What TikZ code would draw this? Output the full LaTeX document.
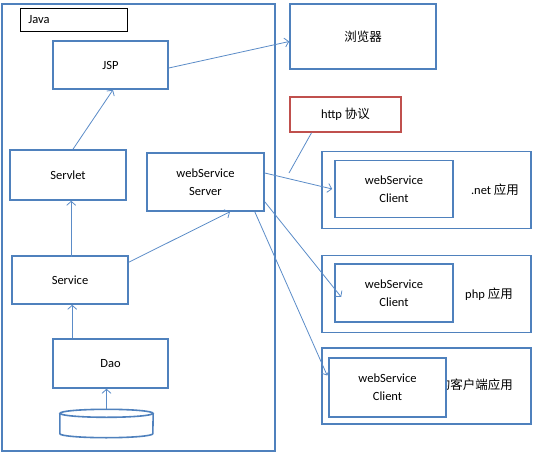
\documentclass[tikz,border=0pt]{standalone}
\usepackage{fontspec}
\setmainfont{Carlito}
\newfontfamily\cjk{Noto Sans CJK SC}
\usepackage{tikz}
\usetikzlibrary{calc}
\usetikzlibrary{arrows.meta, positioning, shapes.geometric}

\definecolor{boxblue}{HTML}{4F81BD}
\definecolor{lineblue}{HTML}{5B8CC8}
\definecolor{boxred}{HTML}{C0504D}

\begin{document}
\begin{tikzpicture}[x=1pt, y=-1pt, font=\fontsize{12.5}{18}\selectfont,
    box/.style={draw=boxblue, line width=1.6pt, fill=white, align=center},
    arr/.style={draw=lineblue, line width=0.8pt, -{Straight Barb[length=4pt, width=9pt]}}]
    \useasboundingbox (0,0) rectangle (536,455);
    % java side
    \node[box, minimum width=273, minimum height=447] (java) at (138.5,227.5) {};
    \node[draw, line width=0.8pt, minimum width=107, minimum height=23, anchor=west, text width=91, inner xsep=8pt, inner ysep=0pt, align=left] (javalabel) at (20,20) {Java};
    \node[box, minimum width=115, minimum height=48] (jsp) at (110.5,65) {JSP};
    \node[box, minimum width=116, minimum height=50] (servlet) at (68,175) {Servlet};
    \node[box, minimum width=117, minimum height=58] (server) at (205.5,182) {webService\\Server};
    \node[box, minimum width=116, minimum height=48] (service) at (70,280) {Service};
    \node[box, minimum width=115, minimum height=49] (dao) at (110.5,363.5) {Dao};
    \node[minimum width=93, minimum height=28, inner sep=0pt] (db) at (106.5,423.5) {};
    \draw[boxblue, line width=1.6pt] ($(db.north west)+(0,4)$) -- ($(db.south west)+(0,-4)$)
        arc[start angle=180, end angle=360, x radius=46.5, y radius=-4] -- ($(db.north east)+(0,4)$);
    \draw[boxblue, line width=1.6pt] ($(db.north)+(0,4)$) ellipse[x radius=46.5, y radius=4];
    % outside
    \node[box, minimum width=146, minimum height=65] (browser) at (363,36.5) {\cjk 浏览器};
    \node[box, draw=boxred, minimum width=111, minimum height=35] (http) at (345.5,114.5) {http {\cjk 协议}};
    \node[box, minimum width=209, minimum height=77] (netapp) at (426.5,190) {};
    \node[box, minimum width=209, minimum height=77] (phpapp) at (426.5,294) {};
    \node[box, minimum width=209, minimum height=76] (otherapp) at (426.5,386) {};
    \node (netlabel) at (495,190) {.net {\cjk 应用}};
    \node (phplabel) at (489,294) {php {\cjk 应用}};
    \node[anchor=east, inner sep=0pt] (otherlabel) at (513,385) {\cjk 的客户端应用};
    \node[box, minimum width=118, minimum height=57] (netclient) at (394,189) {webService\\Client};
    \node[box, minimum width=118, minimum height=58] (phpclient) at (394,293) {webService\\Client};
    \node[box, minimum width=117, minimum height=59] (otherclient) at (387.5,387.5) {webService\\Client};
    \coordinate (httpend) at (289,173);
    % connectors
    \draw[arr] ($(jsp.east)+(0,3)$) -- ($(browser.west)+(0,5)$);
    \draw[arr] ($(servlet.north)+(5,0)$) -- ($(jsp.south)+(2.5,0)$);
    \draw[arr] ($(service.south west)+(60,-48)$) -- ($(servlet.south west)+(62,0)$);
    \draw[arr] ($(dao.north west)+(20,0)$) -- ($(service.south west)+(61,0)$);
    \draw[arr] (db.north) -- (db.north |- dao.south);
    \draw[arr] ($(service.north east)+(0,7)$) -- ($(server.south)+(24.5,0)$);
    \draw[arr] ($(server.east)+(0,-9)$) -- ($(netclient.west)+(-2,0)$);
    \draw[arr] ($(server.south east)+(0,-10)$) -- ($(phpclient.west)+(7,4)$);
    \draw[arr] ($(server.south east)+(-10,0)$) -- ($(otherclient.west)+(-1,-12)$);
    \draw[lineblue, line width=0.8pt] ($(http.south)+(-34,0)$) -- (httpend);
\end{tikzpicture}
\end{document}
